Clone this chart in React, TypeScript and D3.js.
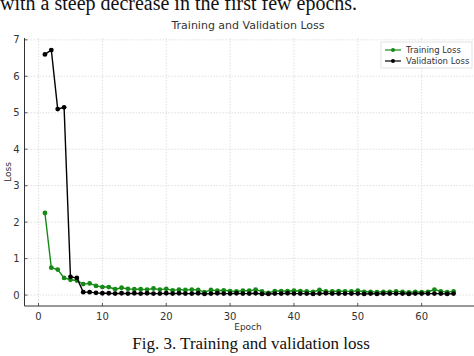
import React from "react";
import * as d3 from "d3";

const trainLoss = [2.25, 0.75, 0.7, 0.47, 0.42, 0.4, 0.3, 0.32, 0.25, 0.22, 0.22, 0.16, 0.2, 0.17, 0.16, 0.16, 0.15, 0.18, 0.15, 0.17, 0.13, 0.15, 0.14, 0.15, 0.14, 0.08, 0.14, 0.12, 0.13, 0.11, 0.1, 0.12, 0.12, 0.15, 0.1, 0.06, 0.11, 0.11, 0.11, 0.12, 0.11, 0.1, 0.09, 0.14, 0.1, 0.1, 0.11, 0.1, 0.1, 0.12, 0.09, 0.09, 0.08, 0.09, 0.09, 0.1, 0.09, 0.07, 0.09, 0.08, 0.09, 0.15, 0.1, 0.08, 0.1];
const valLoss = [6.6, 6.72, 5.1, 5.15, 0.5, 0.47, 0.08, 0.08, 0.06, 0.05, 0.05, 0.04, 0.05, 0.04, 0.05, 0.04, 0.05, 0.04, 0.04, 0.05, 0.04, 0.05, 0.04, 0.04, 0.05, 0.03, 0.04, 0.05, 0.04, 0.04, 0.05, 0.04, 0.04, 0.05, 0.03, 0.03, 0.04, 0.04, 0.05, 0.04, 0.04, 0.04, 0.03, 0.04, 0.05, 0.04, 0.04, 0.04, 0.04, 0.04, 0.03, 0.04, 0.03, 0.04, 0.04, 0.04, 0.04, 0.03, 0.04, 0.04, 0.04, 0.04, 0.04, 0.03, 0.04];
const xTicks = [0, 10, 20, 30, 40, 50, 60];
const yTicks = [0, 1, 2, 3, 4, 5, 6, 7];

const W = 474, H = 356;
const L = 24.5, R = 474, T = 38, B = 306;

export default function App() {
  const x = d3.scaleLinear().domain([-2.2, 68.2]).range([L, R]);
  const y = d3.scaleLinear().domain([-0.3, 7.05]).range([B, T]);
  const line = d3.line<number>().x((_, i) => x(i + 1)).y((d) => y(d));
  const font = "DejaVu Sans, sans-serif";
  const green = "#168a16";
  const series = [
    { data: trainLoss, color: green },
    { data: valLoss, color: "#000000" },
  ];
  return (
    <svg width={W} height={H} style={{ position: "absolute", left: 0, top: 0, background: "#fff" }}>
      <text x={0} y={10} fontFamily="Liberation Serif, serif" fontSize={20} fill="#111">
        with a steep decrease in the first few epochs.
      </text>
      {xTicks.map((t) => (
        <line key={"gx" + t} x1={x(t)} x2={x(t)} y1={T} y2={B} stroke="#d8d8d8" strokeWidth={0.8} strokeDasharray="1.5,1.5" />
      ))}
      {yTicks.map((t) => (
        <line key={"gy" + t} x1={L} x2={R} y1={y(t)} y2={y(t)} stroke="#d8d8d8" strokeWidth={0.8} strokeDasharray="1.5,1.5" />
      ))}
      <line x1={L} x2={L} y1={T} y2={B} stroke="#333" strokeWidth={1} />
      <line x1={L} x2={R} y1={B} y2={B} stroke="#333" strokeWidth={1} />
      {xTicks.map((t) => (
        <g key={"tx" + t}>
          <line x1={x(t)} x2={x(t)} y1={B} y2={B - 3} stroke="#333" strokeWidth={0.8} />
          <text x={x(t)} y={B + 14} textAnchor="middle" fontFamily={font} fontSize={10} fill="#333">{t}</text>
        </g>
      ))}
      {yTicks.map((t) => (
        <g key={"ty" + t}>
          <line x1={L} x2={L + 3} y1={y(t)} y2={y(t)} stroke="#333" strokeWidth={0.8} />
          <text x={L - 5} y={y(t) + 3.5} textAnchor="end" fontFamily={font} fontSize={10} fill="#333">{t}</text>
        </g>
      ))}
      {series.map((s, k) => (
        <g key={"s" + k}>
          <path d={line(s.data) || ""} fill="none" stroke={s.color} strokeWidth={1.4} />
          {s.data.map((d, i) => (
            <circle key={i} cx={x(i + 1)} cy={y(d)} r={2.4} fill={s.color} />
          ))}
        </g>
      ))}
      <text x={248} y={29} textAnchor="middle" fontFamily={font} fontSize={11} fill="#333">Training and Validation Loss</text>
      <text x={248} y={330} textAnchor="middle" fontFamily={font} fontSize={9} fill="#333">Epoch</text>
      <text transform={`translate(11,${(T + B) / 2}) rotate(-90)`} textAnchor="middle" fontFamily={font} fontSize={9} fill="#333">Loss</text>
      <rect x={381} y={42} width={91} height={26} fill="#fff" stroke="#ddd" strokeWidth={0.8} />
      {[{ label: "Training Loss", color: green }, { label: "Validation Loss", color: "#000" }].map((e, i) => (
        <g key={e.label}>
          <line x1={385} x2={401} y1={50 + i * 11} y2={50 + i * 11} stroke={e.color} strokeWidth={1.2} />
          <circle cx={393} cy={50 + i * 11} r={2} fill={e.color} />
          <text x={406} y={53 + i * 11} fontFamily={font} fontSize={8.5} fill="#333">{e.label}</text>
        </g>
      ))}
      <text x={251} y={349} textAnchor="middle" fontFamily="Liberation Serif, serif" fontSize={17} fill="#111">
        Fig. 3. Training and validation loss
      </text>
    </svg>
  );
}
